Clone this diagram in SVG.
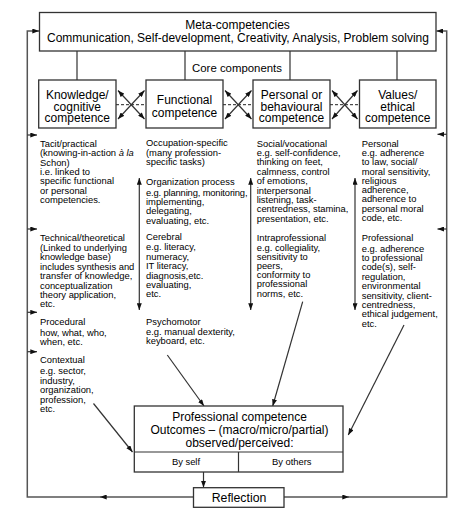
<svg xmlns="http://www.w3.org/2000/svg" width="469" height="516" viewBox="0 0 469 516">
<style>
.bx{fill:#fff;stroke:#333;stroke-width:1.3}
.ln{fill:none;stroke:#333;stroke-width:1.2}
.ol{fill:none;stroke:#555;stroke-width:1.5}
.ds{fill:none;stroke:#222;stroke-width:1;stroke-dasharray:3,2}
.t{font-family:"Liberation Sans",Arial,sans-serif;font-size:9.4px;fill:#000}
.tb{font-family:"Liberation Sans",Arial,sans-serif;font-size:12px;fill:#000;text-anchor:middle}
</style>
<defs>
<marker id="ah" viewBox="0 0 8 6" refX="8" refY="3" markerWidth="7" markerHeight="5" markerUnits="userSpaceOnUse" orient="auto-start-reverse"><path d="M0,0 L8,3 L0,6 z" fill="#111"/></marker>
</defs>
<rect width="469" height="516" fill="#fff"/>

<g id="connectors">
<path class="ln" d="M77,51 V80 M185,51 V80 M290,51 V80 M397,51 V80"/>
<path class="ds" d="M116,104.7 H146 M223,104.7 H253 M330,104.7 H359"/>
<path class="ln" d="M118,90.5 L144.5,119" marker-start="url(#ah)" marker-end="url(#ah)"/>
<path class="ln" d="M118,119 L144.5,90.5" marker-start="url(#ah)" marker-end="url(#ah)"/>
<path class="ln" d="M225,90.5 L251.5,119" marker-start="url(#ah)" marker-end="url(#ah)"/>
<path class="ln" d="M225,119 L251.5,90.5" marker-start="url(#ah)" marker-end="url(#ah)"/>
<path class="ln" d="M332,90.5 L357.5,119" marker-start="url(#ah)" marker-end="url(#ah)"/>
<path class="ln" d="M332,119 L357.5,90.5" marker-start="url(#ah)" marker-end="url(#ah)"/>
<path class="ol" d="M193.5,497 H100" marker-end="url(#ah)"/>
<path class="ol" d="M101,497 H27.3 V31 H39" marker-end="url(#ah)"/>
<path class="ol" d="M284,497 H349" marker-end="url(#ah)"/>
<path class="ol" d="M348,497 H446.7 V31 H436.5" marker-end="url(#ah)"/>
<path class="ln" d="M27.3,135 H37" marker-end="url(#ah)"/>
<path class="ln" d="M27.3,229 H37" marker-end="url(#ah)"/>
<path class="ln" d="M27.3,312.3 H37" marker-end="url(#ah)"/>
<path class="ln" d="M27.3,351.7 H37" marker-end="url(#ah)"/>
<path class="ln" d="M446.7,134.3 H437.5" marker-end="url(#ah)"/>
<path class="ln" d="M446.7,229 H437.5" marker-end="url(#ah)"/>
<path class="ln" d="M139.3,178 V310" marker-start="url(#ah)" marker-end="url(#ah)"/>
<path class="ln" d="M250.7,178 V310" marker-start="url(#ah)" marker-end="url(#ah)"/>
<path class="ln" d="M355,178 V310" marker-start="url(#ah)" marker-end="url(#ah)"/>
<path class="ln" d="M93.5,403.5 L132.5,452" marker-end="url(#ah)"/>
<path class="ln" d="M167.3,355 L204,406" marker-end="url(#ah)"/>
<path class="ln" d="M302.7,301.7 L272.7,406" marker-end="url(#ah)"/>
<path class="ln" d="M404,325 L348.3,435" marker-end="url(#ah)"/>
<path class="ln" d="M203.5,472 V487.5" marker-end="url(#ah)"/>
<path class="ds" d="M259,460.7 H208" marker-end="url(#ah)"/>
</g>

<g id="meta">
<rect class="bx" x="39.5" y="12.5" width="396.5" height="38.5"/>
<text class="tb" x="237.5" y="29">Meta-competencies</text>
<text class="tb" x="238" y="42.3">Communication, Self-development, Creativity, Analysis, Problem solving</text>
</g>

<g id="core-label">
<text class="tb" x="237" y="72" style="font-size:11.4px">Core components</text>
</g>

<g id="knowledge">
<rect class="bx" x="38.7" y="80" width="77.3" height="48"/>
<text class="tb" x="77.3" y="99.2">Knowledge/</text>
<text class="tb" x="77.3" y="110.7">cognitive</text>
<text class="tb" x="77.3" y="121.9">competence</text>
</g>

<g id="functional">
<rect class="bx" x="146" y="80" width="77" height="48"/>
<text class="tb" x="184.5" y="103.5">Functional</text>
<text class="tb" x="184.5" y="116.5">competence</text>
</g>

<g id="personal">
<rect class="bx" x="253" y="80" width="77" height="48"/>
<text class="tb" x="291.5" y="99.2">Personal or</text>
<text class="tb" x="291.5" y="110.7">behavioural</text>
<text class="tb" x="291.5" y="121.9">competence</text>
</g>

<g id="values">
<rect class="bx" x="359.5" y="80" width="76.5" height="48"/>
<text class="tb" x="397.7" y="99.2">Values/</text>
<text class="tb" x="397.7" y="110.7">ethical</text>
<text class="tb" x="397.7" y="121.9">competence</text>
</g>

<g id="col1">
<text class="t" x="40" y="146.6">Tacit/practical<tspan x="40" dy="9.45">(knowing-in-action <tspan font-style="italic">à la</tspan></tspan><tspan x="40" dy="9.45">Schon)</tspan><tspan x="40" dy="9.45">i.e. linked to</tspan><tspan x="40" dy="9.45">specific functional</tspan><tspan x="40" dy="9.45">or personal</tspan><tspan x="40" dy="9.45">competencies.</tspan></text>
<text class="t" x="40" y="240.6">Technical/theoretical<tspan x="40" dy="10.3">(Linked to underlying</tspan><tspan x="40" dy="9.4">knowledge base)</tspan><tspan x="40" dy="9.4">includes synthesis and</tspan><tspan x="40" dy="9.4">transfer of knowledge,</tspan><tspan x="40" dy="9.4">conceptualization</tspan><tspan x="40" dy="9.4">theory application,</tspan><tspan x="40" dy="9.4">etc.</tspan></text>
<text class="t" x="40" y="325.3">Procedural<tspan x="40" dy="10.3">how, what, who,</tspan><tspan x="40" dy="9.4">when, etc.</tspan></text>
<text class="t" x="40" y="363.4">Contextual<tspan x="40" dy="11">e.g. sector,</tspan><tspan x="40" dy="9.5">industry,</tspan><tspan x="40" dy="9.5">organization,</tspan><tspan x="40" dy="9.5">profession,</tspan><tspan x="40" dy="9.5">etc.</tspan></text>
</g>

<g id="col2">
<text class="t" x="146" y="145.6">Occupation-specific<tspan x="146" dy="10.3">(many profession-</tspan><tspan x="146" dy="9.4">specific tasks)</tspan></text>
<text class="t" x="146" y="185">Organization process<tspan x="146" dy="10.6" letter-spacing="-0.15">e.g. planning, monitoring,</tspan><tspan x="146" dy="9.3">implementing,</tspan><tspan x="146" dy="9.3">delegating,</tspan><tspan x="146" dy="9.3">evaluating, etc.</tspan></text>
<text class="t" x="146" y="240">Cerebral<tspan x="146" dy="10.3">e.g. literacy,</tspan><tspan x="146" dy="9.4">numeracy,</tspan><tspan x="146" dy="9.4">IT literacy,</tspan><tspan x="146" dy="9.4">diagnosis,etc.</tspan><tspan x="146" dy="9.4">evaluating,</tspan><tspan x="146" dy="9.4">etc.</tspan></text>
<text class="t" x="146" y="325.3">Psychomotor<tspan x="146" dy="9.4">e.g. manual dexterity,</tspan><tspan x="146" dy="9.4">keyboard, etc.</tspan></text>
</g>

<g id="col3">
<text class="t" x="256.7" y="146.6">Social/vocational<tspan x="256.7" dy="9.4">e.g. self-confidence,</tspan><tspan x="256.7" dy="9.4">thinking on feet,</tspan><tspan x="256.7" dy="9.4">calmness, control</tspan><tspan x="256.7" dy="9.4">of emotions,</tspan><tspan x="256.7" dy="9.4">interpersonal</tspan><tspan x="256.7" dy="9.4">listening, task-</tspan><tspan x="256.7" dy="9.4">centredness, stamina,</tspan><tspan x="256.7" dy="9.4">presentation, etc.</tspan></text>
<text class="t" x="256.7" y="240.6">Intraprofessional<tspan x="256.7" dy="10">e.g. collegiality,</tspan><tspan x="256.7" dy="9.2">sensitivity to</tspan><tspan x="256.7" dy="9.2">peers,</tspan><tspan x="256.7" dy="9.2">conformity to</tspan><tspan x="256.7" dy="9.2">professional</tspan><tspan x="256.7" dy="9.2">norms, etc.</tspan></text>
</g>

<g id="col4">
<text class="t" x="361.7" y="146.6">Personal<tspan x="361.7" dy="9.3">e.g. adherence</tspan><tspan x="361.7" dy="9.3">to law, social/</tspan><tspan x="361.7" dy="9.3">moral sensitivity,</tspan><tspan x="361.7" dy="9.3">religious</tspan><tspan x="361.7" dy="9.3">adherence,</tspan><tspan x="361.7" dy="9.3">adherence to</tspan><tspan x="361.7" dy="9.3">personal moral</tspan><tspan x="361.7" dy="9.3">code, etc.</tspan></text>
<text class="t" x="361.7" y="240.6">Professional<tspan x="361.7" dy="11">e.g. adherence</tspan><tspan x="361.7" dy="9.4">to professional</tspan><tspan x="361.7" dy="9.4">code(s), self-</tspan><tspan x="361.7" dy="9.4">regulation,</tspan><tspan x="361.7" dy="9.4">environmental</tspan><tspan x="361.7" dy="9.4">sensitivity, client-</tspan><tspan x="361.7" dy="9.4">centredness,</tspan><tspan x="361.7" dy="9.4">ethical judgement,</tspan><tspan x="361.7" dy="9.4">etc.</tspan></text>
</g>

<g id="outcome">
<rect class="bx" x="134.3" y="406" width="208.7" height="66"/>
<line class="ln" x1="134.3" y1="452" x2="343" y2="452"/>
<line class="ln" x1="238.5" y1="452" x2="238.5" y2="472"/>
<text class="tb" x="239.5" y="421">Professional competence</text>
<text class="tb" x="239.5" y="433.6">Outcomes – (macro/micro/partial)</text>
<text class="tb" x="239.5" y="446.5">observed/perceived:</text>
<text class="t" x="186" y="464.6" text-anchor="middle">By self</text>
<text class="t" x="291.7" y="464.6" text-anchor="middle">By others</text>
</g>

<g id="reflection">
<rect class="bx" x="193.5" y="487.7" width="90.5" height="19.6"/>
<text class="tb" x="239" y="501.6" style="font-size:12.3px">Reflection</text>
</g>
</svg>
